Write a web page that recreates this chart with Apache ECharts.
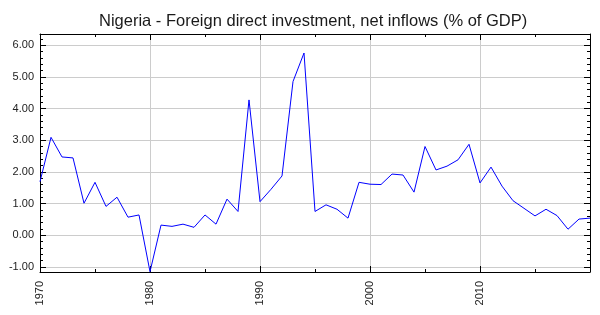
<!DOCTYPE html>
<html>
<head>
<meta charset="utf-8">
<script src="https://cdn.jsdelivr.net/npm/echarts@6/dist/echarts.min.js"></script>
<style>
  html, body { margin: 0; padding: 0; background: #fff; }
  #chart { width: 600px; height: 315px; }
</style>
</head>
<body>
<div id="chart"></div>
<script>
const years = [1970, 1971, 1972, 1973, 1974, 1975, 1976, 1977, 1978, 1979,
  1980, 1981, 1982, 1983, 1984, 1985, 1986, 1987, 1988, 1989,
  1990, 1991, 1992, 1993, 1994, 1995, 1996, 1997, 1998, 1999,
  2000, 2001, 2002, 2003, 2004, 2005, 2006, 2007, 2008, 2009,
  2010, 2011, 2012, 2013, 2014, 2015, 2016, 2017, 2018, 2019, 2020];
const fdiValues = [1.69, 3.09, 2.47, 2.44, 1.01, 1.67, 0.91, 1.20, 0.57, 0.64,
  -1.15, 0.32, 0.28, 0.35, 0.25, 0.64, 0.35, 1.14, 0.75, 4.27,
  1.06, 1.45, 1.87, 4.85, 5.75, 0.75, 0.96, 0.82, 0.54, 1.67,
  1.61, 1.60, 1.93, 1.90, 1.36, 2.80, 2.06, 2.18, 2.38, 2.87,
  1.65, 2.15, 1.55, 1.09, 0.85, 0.61, 0.82, 0.62, 0.19, 0.51, 0.54];
const titleText = 'Nigeria - Foreign direct investment, net inflows (% of GDP)';

const chart = echarts.init(document.getElementById('chart'));

const frameLine = { show: true, onZero: false, lineStyle: { color: '#000', width: 1 } };
const majorTick = { show: true, inside: true, length: 6, lineStyle: { color: '#000' } };
const gridLine = { show: true, lineStyle: { color: '#cccccc', width: 1 } };

const xBase = {
  type: 'value',
  min: 1970,
  max: 2020,
  interval: 10,
  axisLine: frameLine,
  axisTick: majorTick,
  minorTick: { show: true, splitNumber: 2, length: 3, lineStyle: { color: '#000' } }
};

const yBase = {
  type: 'value',
  min: -1.16,
  max: 6.35,
  splitNumber: 7,
  axisLine: frameLine,
  axisTick: majorTick,
  minorTick: { show: true, splitNumber: 5, length: 3, lineStyle: { color: '#000' } }
};

const onlyWhole = v => (Math.abs(v - Math.round(v)) < 1e-6 ? v.toFixed(2) : '');

chart.setOption({
  backgroundColor: '#fff',
  animation: false,
  title: {
    text: titleText,
    left: 94,
    top: 8,
    textStyle: { fontFamily: 'Liberation Sans, Arial', fontSize: 16.5, fontWeight: 'normal', color: '#1a1a1a' }
  },
  grid: { left: 40, right: 10, top: 34, bottom: 43 },
  xAxis: [
    Object.assign({}, xBase, {
      position: 'bottom',
      splitLine: gridLine,
      axisLabel: {
        rotate: 90,
        margin: 9,
        showMaxLabel: false,
        formatter: v => String(v),
        fontFamily: 'Liberation Sans, Arial',
        fontSize: 11,
        color: '#222'
      }
    }),
    Object.assign({}, xBase, {
      position: 'top',
      splitLine: { show: false },
      axisLabel: { show: false }
    })
  ],
  yAxis: [
    Object.assign({}, yBase, {
      position: 'left',
      splitLine: gridLine,
      axisLabel: {
        margin: 6,
        showMinLabel: false,
        showMaxLabel: false,
        formatter: onlyWhole,
        fontFamily: 'Liberation Sans, Arial',
        fontSize: 11,
        color: '#222'
      }
    }),
    Object.assign({}, yBase, {
      position: 'right',
      splitLine: { show: false },
      axisLabel: { show: false }
    })
  ],
  series: [
    {
      type: 'line',
      data: years.map((y, i) => [y, fdiValues[i]]),
      showSymbol: false,
      symbol: 'none',
      lineStyle: { color: '#0000ff', width: 1 },
      xAxisIndex: 0,
      yAxisIndex: 0
    }
  ]
});
</script>
</body>
</html>
